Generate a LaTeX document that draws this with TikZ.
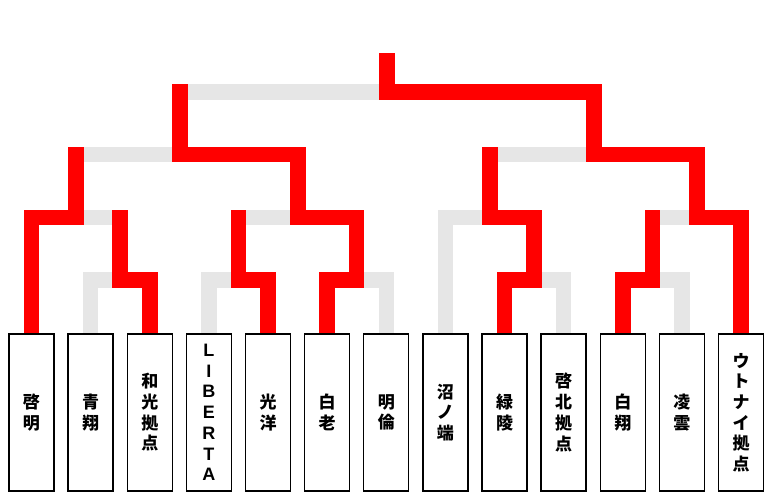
\documentclass[tikz,border=0pt]{standalone}
\usepackage{fontspec}
\newfontfamily\cjk{Noto Sans CJK JP}
\newfontfamily\latn{Liberation Sans}
\definecolor{winred}{RGB}{255,0,0}
\definecolor{lossgray}{RGB}{230,230,230}
\usetikzlibrary{backgrounds}

\tikzset{
  team/.style={draw, line width=1.4pt, fill=white, minimum width=45pt,
    minimum height=157pt, inner sep=0pt, align=center},
  kanji/.style={font=\cjk\bfseries\fontsize{17}{20.7}\selectfont},
  latin/.style={font=\latn\bfseries\fontsize{18}{20.7}\selectfont},
  won/.style={draw=winred, line width=15.5pt, line cap=rect},
  lost/.style={draw=lossgray, line width=15.5pt, line cap=rect},
}

\begin{document}
\begin{tikzpicture}[x=1pt, y=-1pt]
    \useasboundingbox (0,0) rectangle (768,498);

    % Team boxes
    \foreach \txt/\look [count=\i] in {{啓\\明}/kanji, {青\\翔}/kanji,
        {和\\光\\拠\\点}/kanji, {L\\I\\B\\E\\R\\T\\A}/latin,
        {光\\洋}/kanji, {白\\老}/kanji, {明\\倫}/kanji, {沼\\ノ\\端}/kanji,
        {緑\\陵}/kanji, {啓\\北\\拠\\点}/kanji, {白\\翔}/kanji,
        {凌\\雲}/kanji, {ウ\\ト\\ナ\\イ\\拠\\点}/kanji}
        \node[team, \look] (t\i) at ({31.5+59.125*(\i-1)}, 412.5) {\txt};

    % Match points
    \coordinate (m23) at (120.2,280);
    \coordinate (m45) at (238.4,280);
    \coordinate (m67) at (356.7,280);
    \coordinate (m910) at (534.1,280);
    \coordinate (m1112) at (652.3,280);
    \coordinate (m13) at (75.8,217.5);
    \coordinate (m47) at (298,217.5);
    \coordinate (m810) at (490,217.5);
    \coordinate (m1113) at (697,217.5);
    \coordinate (m17) at (180,154.7);
    \coordinate (m813) at (594,154.7);
    \coordinate (final) at (387,92.2);
    \coordinate (top) at (387,61);

    \begin{pgfonlayer}{background}
    % Losing sides
    \draw[lost] (t2.north) |- (m23);
    \draw[lost] (t4.north) |- (m45);
    \draw[lost] (t7.north) |- (m67);
    \draw[lost] (t10.north) |- (m910);
    \draw[lost] (t12.north) |- (m1112);
    \draw[lost] (t8.north) |- (m810);
    \draw[lost] (m23 |- m13) -- (m13);
    \draw[lost] (m45 |- m47) -- (m47);
    \draw[lost] (m1112 |- m1113) -- (m1113);
    \draw[lost] (m13 |- m17) -- (m17);
    \draw[lost] (m810 |- m813) -- (m813);
    \draw[lost] (m17 |- final) -- (final);

    % Winning sides
    \draw[won] (t3.north) |- (m23) -- (m23 |- m13);
    \draw[won] (t1.north) |- (m13) -- (m13 |- m17);
    \draw[won] (t5.north) |- (m45) -- (m45 |- m47);
    \draw[won] (t6.north) |- (m67) |- (m47) |- (m17) -- (m17 |- final);
    \draw[won] (t9.north) |- (m910) |- (m810) -- (m810 |- m813);
    \draw[won] (t11.north) |- (m1112) -- (m1112 |- m1113);
    \draw[won] (t13.north) |- (m1113) |- (m813) |- (final) -- (top);
    \end{pgfonlayer}
\end{tikzpicture}
\end{document}
